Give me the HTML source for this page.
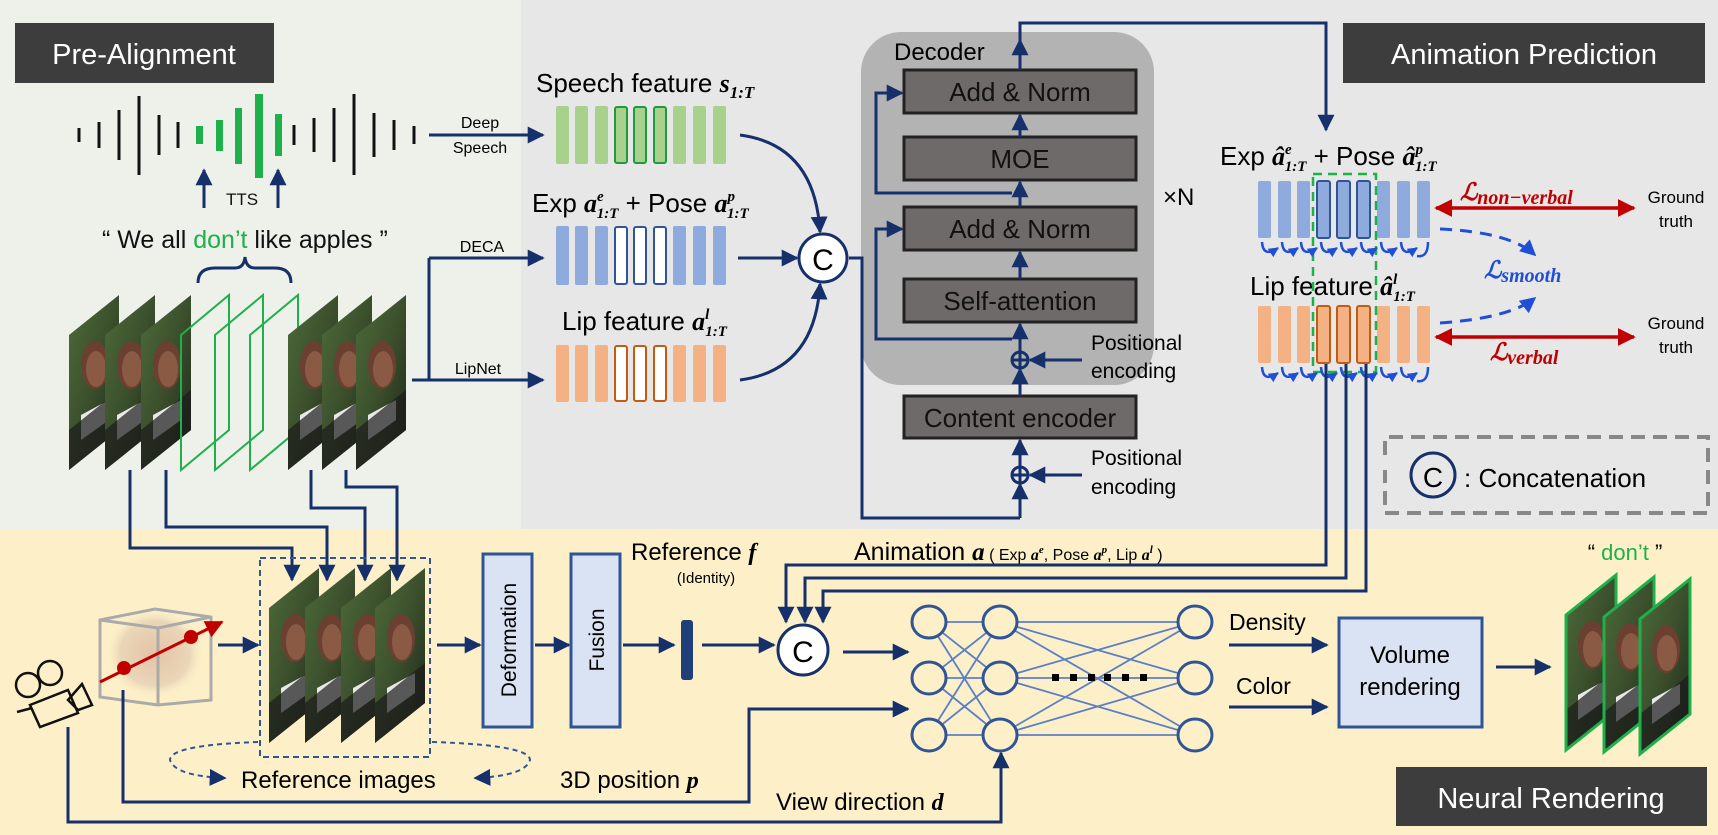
<!DOCTYPE html>
<html><head><meta charset="utf-8"><style>
html,body{margin:0;padding:0;background:#fff}
svg{display:block}
text{font-family:"Liberation Sans",sans-serif}
.m{font-family:"Liberation Serif",serif;font-style:italic;font-weight:bold}
</style></head><body>
<svg width="1718" height="835" viewBox="0 0 1718 835" xmlns="http://www.w3.org/2000/svg">
<defs>
<marker id="s" viewBox="0 0 10 10" refX="9" refY="5" markerWidth="17" markerHeight="17" orient="auto" markerUnits="userSpaceOnUse"><path d="M0,0 L10,5 L0,10 Z" fill="#16306b"/></marker>
<marker id="r" viewBox="0 0 10 10" refX="9" refY="5" markerWidth="18" markerHeight="18" orient="auto-start-reverse" markerUnits="userSpaceOnUse"><path d="M0,0 L10,5 L0,10 Z" fill="#c00000"/></marker>
<marker id="b" viewBox="0 0 10 10" refX="9" refY="5" markerWidth="16" markerHeight="16" orient="auto" markerUnits="userSpaceOnUse"><path d="M0,0 L10,5 L0,10 Z" fill="#1f4fd6"/></marker>
<marker id="sb" viewBox="0 0 10 10" refX="9" refY="5" markerWidth="10" markerHeight="10" orient="auto" markerUnits="userSpaceOnUse"><path d="M0,0 L10,5 L0,10 Z" fill="#1f4fd6"/></marker>
<linearGradient id="face" x1="0" y1="0" x2="1" y2="1"><stop offset="0" stop-color="#4d6b3a"/><stop offset="0.5" stop-color="#3b4f2c"/><stop offset="1" stop-color="#1d2418"/></linearGradient>
<radialGradient id="head" cx="0.5" cy="0.45" r="0.5"><stop offset="0" stop-color="#e6c2a6"/><stop offset="0.7" stop-color="#e9d6b8"/><stop offset="1" stop-color="#fdf0c8" stop-opacity="0"/></radialGradient>
<g id="fr">
<polygon points="0,40 50,0 50,135 0,175" fill="url(#face)"/>
<ellipse cx="26" cy="70" rx="14" ry="24" fill="#6b4030"/>
<ellipse cx="27" cy="74" rx="10" ry="18" fill="#8a5a44"/>
<polygon points="12,120 40,105 40,125 12,145" fill="#e8e8e8"/>
<polygon points="0,135 50,95 50,135 0,175" fill="#1b1b1b" opacity="0.7"/>
</g>
</defs>

<rect x="0" y="0" width="521" height="529" fill="#edf1ea"/>
<rect x="521" y="0" width="1197" height="529" fill="#e7e7e7"/>
<rect x="0" y="529" width="1718" height="306" fill="#fdf0c8"/>

<rect x="15" y="23" width="259" height="60" fill="#3d3d3d"/>
<text x="144" y="64" font-size="29" fill="#fff" text-anchor="middle">Pre-Alignment</text>
<rect x="1343" y="23" width="362" height="60" fill="#3d3d3d"/>
<text x="1524" y="64" font-size="29" fill="#fff" text-anchor="middle">Animation Prediction</text>
<rect x="1396" y="767" width="311" height="59" fill="#3d3d3d"/>
<text x="1551" y="808" font-size="29" fill="#fff" text-anchor="middle">Neural Rendering</text>

<g stroke="#111" stroke-width="3">
<line x1="79" y1="128" x2="79" y2="142"/><line x1="99" y1="122" x2="99" y2="148"/>
<line x1="119" y1="110" x2="119" y2="160"/><line x1="139" y1="96" x2="139" y2="175"/>
<line x1="159" y1="115" x2="159" y2="155"/><line x1="178" y1="122" x2="178" y2="148"/>
<line x1="294" y1="125" x2="294" y2="145"/><line x1="314" y1="118" x2="314" y2="152"/>
<line x1="334" y1="108" x2="334" y2="162"/><line x1="354" y1="94" x2="354" y2="175"/>
<line x1="374" y1="113" x2="374" y2="157"/><line x1="394" y1="120" x2="394" y2="150"/>
<line x1="414" y1="126" x2="414" y2="144"/>
</g>
<g fill="#1db04b">
<rect x="196" y="126" width="7" height="18"/><rect x="216" y="120" width="7" height="31"/>
<rect x="235" y="108" width="7" height="56"/><rect x="255" y="94" width="8" height="84"/>
<rect x="275" y="114" width="7" height="42"/>
</g>
<line x1="204" y1="208" x2="204" y2="170" stroke="#16306b" stroke-width="3" marker-end="url(#s)"/>
<line x1="278" y1="208" x2="278" y2="170" stroke="#16306b" stroke-width="3" marker-end="url(#s)"/>
<text x="242" y="205" font-size="17" text-anchor="middle" fill="#111">TTS</text>
<text x="102" y="248" font-size="25" fill="#111">“ We all <tspan fill="#1db04b">don’t</tspan> like apples ”</text>
<path d="M198,283 Q198,268 215,268 L235,268 Q244,268 245,257 Q246,268 255,268 L275,268 Q291,268 291,283" fill="none" stroke="#16306b" stroke-width="3"/>

<use href="#fr" x="69" y="295"/><use href="#fr" x="105" y="295"/><use href="#fr" x="141" y="295"/>
<g fill="none" stroke="#1db04b" stroke-width="2">
<polygon points="181,335 229,295 229,430 181,470"/>
<polygon points="215,335 263,295 263,430 215,470"/>
<polygon points="250,335 298,295 298,430 250,470"/>
</g>
<use href="#fr" x="288" y="295"/><use href="#fr" x="322" y="295"/><use href="#fr" x="356" y="295"/>

<line x1="429" y1="135" x2="543" y2="135" stroke="#16306b" stroke-width="3" marker-end="url(#s)"/>
<text x="480" y="128" font-size="16" text-anchor="middle">Deep</text>
<text x="480" y="153" font-size="16" text-anchor="middle">Speech</text>
<path d="M429,258 L429,380" fill="none" stroke="#16306b" stroke-width="3"/>
<line x1="412" y1="380" x2="543" y2="380" stroke="#16306b" stroke-width="3" marker-end="url(#s)"/>
<line x1="429" y1="258" x2="543" y2="258" stroke="#16306b" stroke-width="3" marker-end="url(#s)"/>
<text x="482" y="252" font-size="16" text-anchor="middle">DECA</text>
<text x="478" y="374" font-size="16" text-anchor="middle">LipNet</text>

<text x="536" y="92" font-size="26">Speech feature <tspan class="m">s</tspan><tspan class="m" font-size="17" dy="6">1:T</tspan></text>
<g>
<rect x="556" y="106" width="13" height="58" rx="2" fill="#a9d18e"/><rect x="575" y="106" width="13" height="58" rx="2" fill="#a9d18e"/><rect x="595" y="106" width="13" height="58" rx="2" fill="#a9d18e"/>
<rect x="615" y="107" width="12" height="56" rx="2" fill="#a9d18e" stroke="#1f9a3c" stroke-width="2"/><rect x="634" y="107" width="12" height="56" rx="2" fill="#a9d18e" stroke="#1f9a3c" stroke-width="2"/><rect x="654" y="107" width="12" height="56" rx="2" fill="#a9d18e" stroke="#1f9a3c" stroke-width="2"/>
<rect x="673" y="106" width="13" height="58" rx="2" fill="#a9d18e"/><rect x="693" y="106" width="13" height="58" rx="2" fill="#a9d18e"/><rect x="713" y="106" width="13" height="58" rx="2" fill="#a9d18e"/>
</g>
<text x="532" y="212" font-size="26">Exp <tspan class="m">a</tspan><tspan class="m" font-size="15" dy="-11">e</tspan><tspan class="m" font-size="15" dx="-7" dy="17">1:T</tspan><tspan dy="-6"> + Pose </tspan><tspan class="m">a</tspan><tspan class="m" font-size="15" dy="-11">p</tspan><tspan class="m" font-size="15" dx="-8" dy="17">1:T</tspan></text>
<g>
<rect x="556" y="226" width="13" height="59" rx="2" fill="#8faadc"/><rect x="575" y="226" width="13" height="59" rx="2" fill="#8faadc"/><rect x="595" y="226" width="13" height="59" rx="2" fill="#8faadc"/>
<rect x="615" y="227" width="12" height="57" rx="2" fill="#fff" stroke="#2f5597" stroke-width="2"/><rect x="634" y="227" width="12" height="57" rx="2" fill="#fff" stroke="#2f5597" stroke-width="2"/><rect x="654" y="227" width="12" height="57" rx="2" fill="#fff" stroke="#2f5597" stroke-width="2"/>
<rect x="673" y="226" width="13" height="59" rx="2" fill="#8faadc"/><rect x="693" y="226" width="13" height="59" rx="2" fill="#8faadc"/><rect x="713" y="226" width="13" height="59" rx="2" fill="#8faadc"/>
</g>
<text x="562" y="330" font-size="26">Lip feature <tspan class="m">a</tspan><tspan class="m" font-size="15" dy="-11">l</tspan><tspan class="m" font-size="15" dx="-4" dy="17">1:T</tspan></text>
<g>
<rect x="556" y="345" width="13" height="57" rx="2" fill="#f4b183"/><rect x="575" y="345" width="13" height="57" rx="2" fill="#f4b183"/><rect x="595" y="345" width="13" height="57" rx="2" fill="#f4b183"/>
<rect x="615" y="346" width="12" height="55" rx="2" fill="#fff" stroke="#c55a11" stroke-width="2"/><rect x="634" y="346" width="12" height="55" rx="2" fill="#fff" stroke="#c55a11" stroke-width="2"/><rect x="654" y="346" width="12" height="55" rx="2" fill="#fff" stroke="#c55a11" stroke-width="2"/>
<rect x="673" y="345" width="13" height="57" rx="2" fill="#f4b183"/><rect x="693" y="345" width="13" height="57" rx="2" fill="#f4b183"/><rect x="713" y="345" width="13" height="57" rx="2" fill="#f4b183"/>
</g>

<path d="M740,135 Q815,145 820,232" fill="none" stroke="#16306b" stroke-width="3" marker-end="url(#s)"/>
<line x1="738" y1="258" x2="797" y2="258" stroke="#16306b" stroke-width="3" marker-end="url(#s)"/>
<path d="M740,380 Q815,370 820,284" fill="none" stroke="#16306b" stroke-width="3" marker-end="url(#s)"/>
<circle cx="823" cy="258" r="24" fill="#fff" stroke="#16306b" stroke-width="3"/>
<text x="823" y="270" font-size="30" text-anchor="middle">C</text>

<rect x="861" y="32" width="293" height="353" rx="40" fill="#b3b3b3"/>
<text x="894" y="60" font-size="24">Decoder</text>
<g fill="#6d6a69" stroke="#222" stroke-width="3">
<rect x="904" y="70" width="232" height="43"/>
<rect x="904" y="137" width="232" height="43"/>
<rect x="904" y="207" width="232" height="43"/>
<rect x="904" y="279" width="232" height="43"/>
<rect x="904" y="396" width="232" height="42"/>
</g>
<g font-size="26" text-anchor="middle" fill="#111">
<text x="1020" y="101">Add &amp; Norm</text>
<text x="1020" y="168">MOE</text>
<text x="1020" y="238">Add &amp; Norm</text>
<text x="1020" y="310">Self-attention</text>
<text x="1020" y="427">Content encoder</text>
</g>
<g stroke="#16306b" stroke-width="3" fill="none">
<line x1="1020" y1="137" x2="1020" y2="115" marker-end="url(#s)"/>
<line x1="1020" y1="207" x2="1020" y2="182" marker-end="url(#s)"/>
<line x1="1020" y1="279" x2="1020" y2="252" marker-end="url(#s)"/>
<line x1="1020" y1="352" x2="1020" y2="324" marker-end="url(#s)"/>
<line x1="1020" y1="396" x2="1020" y2="369" marker-end="url(#s)"/>
<line x1="1020" y1="467" x2="1020" y2="440" marker-end="url(#s)"/>
<line x1="1020" y1="518" x2="1020" y2="484" marker-end="url(#s)"/>
<path d="M1012,193 L876,193 L876,93 L902,93" marker-end="url(#s)"/>
<path d="M1012,339 L876,339 L876,229 L902,229" marker-end="url(#s)"/>
<path d="M1020,70 L1020,23 L1326,23 L1326,128" />
<line x1="1020" y1="70" x2="1020" y2="40" marker-end="url(#s)"/>
<line x1="1326" y1="100" x2="1326" y2="130" marker-end="url(#s)"/>
<circle cx="1020" cy="360" r="8"/><line x1="1012" y1="360" x2="1028" y2="360"/><line x1="1020" y1="352" x2="1020" y2="368"/>
<line x1="1082" y1="360" x2="1030" y2="360" marker-end="url(#s)"/>
<circle cx="1020" cy="475" r="8"/><line x1="1012" y1="475" x2="1028" y2="475"/><line x1="1020" y1="467" x2="1020" y2="483"/>
<line x1="1082" y1="475" x2="1030" y2="475" marker-end="url(#s)"/>
<path d="M849,258 L862,258 L862,518 L1020,518"/>
</g>
<text x="1091" y="350" font-size="21">Positional</text><text x="1091" y="378" font-size="21">encoding</text>
<text x="1091" y="465" font-size="21">Positional</text><text x="1091" y="494" font-size="21">encoding</text>
<text x="1163" y="205" font-size="24">×N</text>

<text x="1220" y="165" font-size="26">Exp <tspan class="m">â</tspan><tspan class="m" font-size="15" dy="-11">e</tspan><tspan class="m" font-size="15" dx="-7" dy="17">1:T</tspan><tspan dy="-6"> + Pose </tspan><tspan class="m">â</tspan><tspan class="m" font-size="15" dy="-11">p</tspan><tspan class="m" font-size="15" dx="-8" dy="17">1:T</tspan></text>
<g fill="#8faadc">
<rect x="1258" y="181" width="13" height="57" rx="2"/><rect x="1278" y="181" width="13" height="57" rx="2"/><rect x="1297" y="181" width="13" height="57" rx="2"/>
<rect x="1317" y="181" width="13" height="57" rx="2" stroke="#2f5597" stroke-width="2"/><rect x="1337" y="181" width="13" height="57" rx="2" stroke="#2f5597" stroke-width="2"/><rect x="1357" y="181" width="13" height="57" rx="2" stroke="#2f5597" stroke-width="2"/>
<rect x="1377" y="181" width="13" height="57" rx="2"/><rect x="1397" y="181" width="13" height="57" rx="2"/><rect x="1417" y="181" width="13" height="57" rx="2"/>
</g>
<text x="1250" y="295" font-size="26">Lip feature <tspan class="m">â</tspan><tspan class="m" font-size="15" dy="-11">l</tspan><tspan class="m" font-size="15" dx="-4" dy="17">1:T</tspan></text>
<g fill="#f4b183">
<rect x="1258" y="306" width="13" height="57" rx="2"/><rect x="1278" y="306" width="13" height="57" rx="2"/><rect x="1297" y="306" width="13" height="57" rx="2"/>
<rect x="1317" y="306" width="13" height="57" rx="2" stroke="#c55a11" stroke-width="2"/><rect x="1337" y="306" width="13" height="57" rx="2" stroke="#c55a11" stroke-width="2"/><rect x="1357" y="306" width="13" height="57" rx="2" stroke="#c55a11" stroke-width="2"/>
<rect x="1377" y="306" width="13" height="57" rx="2"/><rect x="1397" y="306" width="13" height="57" rx="2"/><rect x="1417" y="306" width="13" height="57" rx="2"/>
</g>
<rect x="1313" y="174" width="63" height="198" fill="none" stroke="#1db04b" stroke-width="2.5" stroke-dasharray="9,6"/>
<g fill="none" stroke="#1f4fd6" stroke-width="2.5">
<path d="M1262,242 Q1263,258 1278,248" marker-end="url(#sb)"/><path d="M1282,242 Q1283,258 1298,248" marker-end="url(#sb)"/><path d="M1301,242 Q1302,258 1317,248" marker-end="url(#sb)"/><path d="M1321,242 Q1322,258 1337,248" marker-end="url(#sb)"/><path d="M1341,242 Q1342,258 1357,248" marker-end="url(#sb)"/><path d="M1361,242 Q1362,258 1377,248" marker-end="url(#sb)"/><path d="M1381,242 Q1382,258 1397,248" marker-end="url(#sb)"/><path d="M1401,242 Q1402,258 1417,248" marker-end="url(#sb)"/><path d="M1428,242 Q1428,258 1417,256"/>
<path d="M1262,367 Q1263,383 1278,373" marker-end="url(#sb)"/><path d="M1282,367 Q1283,383 1298,373" marker-end="url(#sb)"/><path d="M1301,367 Q1302,383 1317,373" marker-end="url(#sb)"/><path d="M1321,367 Q1322,383 1337,373" marker-end="url(#sb)"/><path d="M1341,367 Q1342,383 1357,373" marker-end="url(#sb)"/><path d="M1361,367 Q1362,383 1377,373" marker-end="url(#sb)"/><path d="M1381,367 Q1382,383 1397,373" marker-end="url(#sb)"/><path d="M1401,367 Q1402,383 1417,373" marker-end="url(#sb)"/><path d="M1428,367 Q1428,383 1417,381"/>
<path d="M1440,229 Q1510,232 1535,255" stroke-width="3" stroke-dasharray="12,8" marker-end="url(#b)"/>
<path d="M1440,323 Q1510,318 1535,298" stroke-width="3" stroke-dasharray="12,8" marker-end="url(#b)"/>
</g>
<line x1="1436" y1="208" x2="1634" y2="208" stroke="#c00000" stroke-width="3.5" marker-start="url(#r)" marker-end="url(#r)"/>
<line x1="1436" y1="337" x2="1634" y2="337" stroke="#c00000" stroke-width="3.5" marker-start="url(#r)" marker-end="url(#r)"/>
<text class="m" x="1460" y="200" font-size="24" fill="#c00000">ℒ<tspan font-size="20" dy="4">non−verbal</tspan></text>
<text class="m" x="1490" y="360" font-size="24" fill="#c00000">ℒ<tspan font-size="20" dy="4">verbal</tspan></text>
<text class="m" x="1484" y="278" font-size="24" fill="#1f4fd6">ℒ<tspan font-size="20" dy="4">smooth</tspan></text>
<g font-size="17" text-anchor="middle"><text x="1676" y="203">Ground</text><text x="1676" y="227">truth</text><text x="1676" y="329">Ground</text><text x="1676" y="353">truth</text></g>

<path d="M1385,455 L1385,437 L1708,437 L1708,513 L1385,513 L1385,470" fill="none" stroke="#888" stroke-width="4" stroke-dasharray="14,8"/>
<circle cx="1433" cy="475" r="22" fill="none" stroke="#16306b" stroke-width="3"/>
<text x="1433" y="487" font-size="28" text-anchor="middle">C</text>
<text x="1464" y="487" font-size="26">: Concatenation</text>

<g stroke="#16306b" stroke-width="3" fill="none">
<path d="M1326,364 L1326,565 L786,565 L786,622" marker-end="url(#s)"/>
<path d="M1346,364 L1346,578 L805,578 L805,622" marker-end="url(#s)"/>
<path d="M1366,364 L1366,591 L823,591 L823,622" marker-end="url(#s)"/>
<path d="M130,470 L130,548 L292,548 L292,580" marker-end="url(#s)"/>
<path d="M166,470 L166,527 L327,527 L327,580" marker-end="url(#s)"/>
<path d="M311,470 L311,508 L365,508 L365,580" marker-end="url(#s)"/>
<path d="M346,470 L346,487 L397,487 L397,580" marker-end="url(#s)"/>
</g>
<text x="854" y="560" font-size="25">Animation <tspan class="m">a</tspan><tspan font-size="16"> ( Exp </tspan><tspan class="m" font-size="16">a</tspan><tspan class="m" font-size="11" dy="-7">e</tspan><tspan font-size="16" dy="7">, Pose </tspan><tspan class="m" font-size="16">a</tspan><tspan class="m" font-size="11" dy="-7">p</tspan><tspan font-size="16" dy="7">, Lip </tspan><tspan class="m" font-size="16">a</tspan><tspan class="m" font-size="11" dy="-7">l</tspan><tspan font-size="16" dy="7"> )</tspan></text>
<text x="631" y="560" font-size="24">Reference <tspan class="m">f</tspan></text>
<text x="706" y="583" font-size="15" text-anchor="middle">(Identity)</text>

<rect x="260" y="558" width="170" height="199" fill="none" stroke="#2f5597" stroke-width="2" stroke-dasharray="6,4"/>
<use href="#fr" x="269" y="568"/><use href="#fr" x="305" y="568"/><use href="#fr" x="341" y="568"/><use href="#fr" x="375" y="568"/>
<rect x="105" y="612" width="100" height="92" fill="url(#head)"/>
<g fill="none" stroke="#aaa" stroke-width="3"><polygon points="100,620 155,609 211,617 211,700 158,705 100,697"/><polyline points="100,620 158,628 211,617"/><line x1="158" y1="628" x2="158" y2="705"/></g>
<line x1="100" y1="682" x2="222" y2="622" stroke="#c00000" stroke-width="3" marker-end="url(#r)"/>
<circle cx="124" cy="668" r="7" fill="#c00000"/><circle cx="191" cy="637" r="7" fill="#c00000"/>
<g fill="none" stroke="#111" stroke-width="2.5">
<circle cx="28" cy="685" r="12"/><circle cx="50" cy="673" r="12"/>
<polygon points="30,705 68,690 78,713 40,727"/><polygon points="68,700 82,684 92,705 78,710"/><line x1="17" y1="712" x2="32" y2="708"/>
</g>
<g stroke="#16306b" stroke-width="3" fill="none">
<line x1="218" y1="645" x2="258" y2="645" marker-end="url(#s)"/>
<line x1="437" y1="645" x2="480" y2="645" marker-end="url(#s)"/>
<line x1="535" y1="645" x2="569" y2="645" marker-end="url(#s)"/>
<line x1="623" y1="645" x2="674" y2="645" marker-end="url(#s)"/>
<line x1="702" y1="645" x2="774" y2="645" marker-end="url(#s)"/>
<line x1="843" y1="652" x2="908" y2="652" marker-end="url(#s)"/>
<path d="M123,690 L123,802 L749,802 L749,709 L908,709" marker-end="url(#s)"/>
<path d="M68,727 L68,822 L1001,822 L1001,753" marker-end="url(#s)"/>
<line x1="1229" y1="645" x2="1327" y2="645" marker-end="url(#s)"/>
<line x1="1229" y1="707" x2="1327" y2="707" marker-end="url(#s)"/>
<line x1="1496" y1="667" x2="1550" y2="667" marker-end="url(#s)"/>
</g>
<path d="M258,742 Q170,745 170,760 Q175,776 225,778" fill="none" stroke="#2f5597" stroke-width="2" stroke-dasharray="5,4" marker-end="url(#s)"/>
<path d="M432,742 Q530,745 530,760 Q525,776 475,778" fill="none" stroke="#2f5597" stroke-width="2" stroke-dasharray="5,4" marker-end="url(#s)"/>
<text x="241" y="788" font-size="24">Reference images</text>
<text x="560" y="788" font-size="24">3D position <tspan class="m">p</tspan></text>
<text x="776" y="810" font-size="24">View direction <tspan class="m">d</tspan></text>
<rect x="483" y="554" width="49" height="173" fill="#dae3f3" stroke="#2f5597" stroke-width="3"/>
<rect x="571" y="554" width="49" height="173" fill="#dae3f3" stroke="#2f5597" stroke-width="3"/>
<text transform="translate(516,640) rotate(-90)" font-size="21" text-anchor="middle">Deformation</text>
<text transform="translate(604,640) rotate(-90)" font-size="21" text-anchor="middle">Fusion</text>
<rect x="681" y="620" width="12" height="60" rx="3" fill="#1f3f7a"/>
<circle cx="803" cy="650" r="25" fill="#fff" stroke="#16306b" stroke-width="3"/>
<text x="803" y="662" font-size="30" text-anchor="middle">C</text>

<g stroke="#5b7fc7" stroke-width="1.8">
<line x1="929" y1="622" x2="1000" y2="622"/><line x1="929" y1="622" x2="1000" y2="678"/><line x1="929" y1="622" x2="1000" y2="735"/>
<line x1="929" y1="678" x2="1000" y2="622"/><line x1="929" y1="678" x2="1000" y2="678"/><line x1="929" y1="678" x2="1000" y2="735"/>
<line x1="929" y1="735" x2="1000" y2="622"/><line x1="929" y1="735" x2="1000" y2="678"/><line x1="929" y1="735" x2="1000" y2="735"/>
<line x1="1000" y1="622" x2="1195" y2="622"/><line x1="1000" y1="622" x2="1195" y2="678"/><line x1="1000" y1="622" x2="1195" y2="735"/>
<line x1="1000" y1="678" x2="1195" y2="622"/><line x1="1000" y1="678" x2="1195" y2="678"/><line x1="1000" y1="678" x2="1195" y2="735"/>
<line x1="1000" y1="735" x2="1195" y2="622"/><line x1="1000" y1="735" x2="1195" y2="678"/><line x1="1000" y1="735" x2="1195" y2="735"/>
</g>
<g fill="#fdf0c8" stroke="#2f5597" stroke-width="3">
<ellipse cx="929" cy="622" rx="17" ry="16"/><ellipse cx="929" cy="678" rx="17" ry="16"/><ellipse cx="929" cy="735" rx="17" ry="16"/>
<ellipse cx="1000" cy="622" rx="17" ry="16"/><ellipse cx="1000" cy="678" rx="17" ry="16"/><ellipse cx="1000" cy="735" rx="17" ry="16"/>
<ellipse cx="1195" cy="622" rx="17" ry="16"/><ellipse cx="1195" cy="678" rx="17" ry="16"/><ellipse cx="1195" cy="735" rx="17" ry="16"/>
</g>
<g fill="#000"><rect x="1052" y="674" width="7" height="7"/><rect x="1070" y="674" width="7" height="7"/><rect x="1088" y="674" width="7" height="7"/><rect x="1104" y="674" width="7" height="7"/><rect x="1122" y="674" width="7" height="7"/><rect x="1140" y="674" width="7" height="7"/></g>
<text x="1229" y="630" font-size="23">Density</text>
<text x="1236" y="694" font-size="23">Color</text>
<rect x="1339" y="618" width="143" height="109" fill="#dae3f3" stroke="#2f5597" stroke-width="3"/>
<text x="1410" y="663" font-size="24" text-anchor="middle">Volume</text>
<text x="1410" y="695" font-size="24" text-anchor="middle">rendering</text>
<text x="1625" y="560" font-size="22" text-anchor="middle">“ <tspan fill="#1db04b">don’t</tspan> ”</text>
<g><use href="#fr" x="1566" y="575"/><polygon points="1566,615 1616,575 1616,710 1566,750" fill="none" stroke="#1db04b" stroke-width="3"/>
<use href="#fr" x="1604" y="577"/><polygon points="1604,617 1654,577 1654,712 1604,752" fill="none" stroke="#1db04b" stroke-width="3"/>
<use href="#fr" x="1640" y="579"/><polygon points="1640,619 1690,579 1690,714 1640,754" fill="none" stroke="#1db04b" stroke-width="3"/></g>
</svg>
</body></html>
